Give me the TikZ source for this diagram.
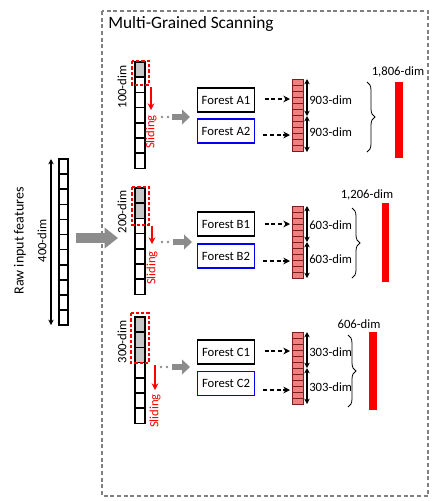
\documentclass[tikz,border=0pt]{standalone}
\usepackage{fontspec}
\setmainfont{Carlito}
\usetikzlibrary{calc,arrows.meta,decorations.pathreplacing}

\definecolor{framegray}{RGB}{128,128,128}
\definecolor{arrowgray}{RGB}{140,140,140}
\definecolor{cellgray}{RGB}{200,200,200}
\definecolor{cellpink}{RGB}{240,128,128}
\definecolor{pinkedge}{RGB}{120,30,30}
\definecolor{barred}{RGB}{250,0,0}
\definecolor{forestblue}{RGB}{0,0,240}

\tikzset{
  cell/.style={draw=black,line width=1.2pt},
  pinkcell/.style={draw=pinkedge,fill=cellpink,line width=0.6pt},
  window/.style={draw=red,dash pattern=on 2.5pt off 1.5pt,line width=0.9pt},
  forest/.style={draw=black,line width=1.3pt,minimum width=42.75pt,minimum height=18pt,inner sep=0pt,font=\fontsize{9.5}{11}\selectfont},
  forestb/.style={forest,draw=forestblue},
  dimlabel/.style={font=\fontsize{9.5}{11}\selectfont,inner sep=0pt},
  fatarrow/.style={draw=arrowgray,line width=5pt,-{Triangle[length=6pt,width=11pt]}},
  bigarrow/.style={draw=arrowgray,line width=7.5pt,-{Triangle[length=10pt,width=15pt]}},
  dotrow/.style={draw=arrowgray,line width=2pt,dash pattern=on 0pt off 4.5pt,line cap=round},
  feedarrow/.style={dash pattern=on 3pt off 2pt,line width=0.9pt,-{Stealth[length=5pt,width=5pt]}},
  slidearrow/.style={red,line width=1pt,-{Stealth[length=5pt,width=5pt]}},
  spanarrow/.style={line width=0.8pt,{Stealth[length=4pt,width=4pt]}-{Stealth[length=4pt,width=4pt]}},
  bracebox/.style={decorate,decoration={brace,amplitude=6pt},line width=0.6pt},
  redbar/.style={fill=barred,draw=none}
}

\begin{document}
\begin{tikzpicture}[x=0.75pt,y=-0.75pt]
\useasboundingbox (0,0) rectangle (438,501);

% frame
\draw[framegray,dash pattern=on 3pt off 2pt,line width=1pt] (102,11) rectangle (428,496);
\node[anchor=west,font=\fontsize{13}{15}\selectfont,inner sep=0pt] (title) at (108,24) {Multi-Grained Scanning};

% raw input
\foreach \i in {0,...,10}
  \draw[cell] (59,{159+15.1*\i}) rectangle (68,{159+15.1*(\i+1)});
\coordinate (rawtop) at (51,159);
\coordinate (rawbot) at (51,325);
\draw[spanarrow] (rawtop) -- (rawbot);
\node[dimlabel,rotate=90] (rawdim) at (42,241) {400-dim};
\node[font=\fontsize{10.5}{12}\selectfont,inner sep=0pt,rotate=90] (rawlabel) at (20,241) {Raw input features};
\coordinate (rawout) at (76,238);
\coordinate (scanin) at (118,238);
\draw[bigarrow] (rawout) -- (scanin);

% row A
\fill[cellgray] (135,62) rectangle (145,77.2);
\foreach \i in {0,...,6}
  \draw[cell] (135,{62+15.2*\i}) rectangle (145,{62+15.2*(\i+1)});
\draw[window] (132,61) rectangle (149,85);
\node[dimlabel,rotate=90] (dimA) at (122,87) {100-dim};
\draw[slidearrow] (151,87) -- (151,110);
\node[dimlabel,red,rotate=90] (slideA) at (151,132) {Sliding};
\draw[dotrow] (162,117) -- (170,117);
\draw[fatarrow] (172,117) -- (190,117);
\node[forest] (fA1) at (226,100) {Forest A1};
\node[forestb] (fA2) at (226,131) {Forest A2};
\foreach \i in {0,...,11}
  \draw[pinkcell] (292,{79+6*\i}) rectangle (303,{79+6*(\i+1)});
\coordinate (inA1) at (290,99);
\coordinate (inA2) at (290,135);
\draw[feedarrow,shorten <=7pt] (fA1.east |- inA1) -- (inA1);
\draw[feedarrow,shorten <=6pt] (fA2.east |- inA2) -- (inA2);
\draw[spanarrow] (307,79) -- (307,116);
\draw[spanarrow] (307,116) -- (307,152);
\node[dimlabel,anchor=west] (subA1) at (309,100) {903-dim};
\node[dimlabel,anchor=west] (subA2) at (309,132) {903-dim};
\draw[bracebox] (367,82) -- (367,152);
\fill[redbar] (395,82) rectangle (403,158);
\node[dimlabel] (totA) at (398,72) {1,806-dim};

% row B
\fill[cellgray] (135,188) rectangle (145,218.4);
\foreach \i in {0,...,6}
  \draw[cell] (135,{188+15.2*\i}) rectangle (145,{188+15.2*(\i+1)});
\draw[window] (132,187) rectangle (149,225);
\node[dimlabel,rotate=90] (dimB) at (122,212) {200-dim};
\draw[slidearrow] (152,226) -- (152,244);
\node[dimlabel,red,rotate=90] (slideB) at (152,268) {Sliding};
\draw[dotrow] (162,242) -- (170,242);
\draw[fatarrow] (173,242) -- (192,242);
\node[forest] (fB1) at (226,224) {Forest B1};
\node[forestb] (fB2) at (226,256) {Forest B2};
\foreach \i in {0,...,11}
  \draw[pinkcell] (292,{206+6*\i}) rectangle (303,{206+6*(\i+1)});
\coordinate (inB1) at (290,224);
\coordinate (inB2) at (290,261);
\draw[feedarrow,shorten <=7pt] (fB1.east |- inB1) -- (inB1);
\draw[feedarrow,shorten <=6pt] (fB2.east |- inB2) -- (inB2);
\draw[spanarrow] (307,206) -- (307,242);
\draw[spanarrow] (307,242) -- (307,278);
\node[dimlabel,anchor=west] (subB1) at (309,225) {603-dim};
\node[dimlabel,anchor=west] (subB2) at (309,259) {603-dim};
\draw[bracebox] (352,208) -- (352,278);
\fill[redbar] (382,203) rectangle (389,282);
\node[dimlabel] (totB) at (367,195) {1,206-dim};

% row C
\fill[cellgray] (135,317) rectangle (145,362.6);
\foreach \i in {0,...,6}
  \draw[cell] (135,{317+15.2*\i}) rectangle (145,{317+15.2*(\i+1)});
\draw[window] (131,313) rectangle (149,363);
\node[dimlabel,rotate=90] (dimC) at (122,342) {300-dim};
\draw[slidearrow] (155,365) -- (155,390);
\node[dimlabel,red,rotate=90] (slideC) at (155,411) {Sliding};
\draw[dotrow] (161,367) -- (169,367);
\draw[fatarrow] (172,367) -- (190,367);
\node[forest] (fC1) at (226,352) {Forest C1};
\node[forestb] (fC2) at (226,383.5) {Forest C2};
\foreach \i in {0,...,11}
  \draw[pinkcell] (292,{332+6*\i}) rectangle (303,{332+6*(\i+1)});
\coordinate (inC1) at (290,351);
\coordinate (inC2) at (290,390);
\draw[feedarrow,shorten <=7pt] (fC1.east |- inC1) -- (inC1);
\draw[feedarrow,shorten <=6pt] (fC2.east |- inC2) -- (inC2);
\draw[spanarrow] (307,332) -- (307,368);
\draw[spanarrow] (307,368) -- (307,404);
\node[dimlabel,anchor=west] (subC1) at (309,352) {303-dim};
\node[dimlabel,anchor=west] (subC2) at (309,387) {303-dim};
\draw[bracebox] (348,335) -- (348,407);
\fill[redbar] (369,332) rectangle (377,410);
\node[dimlabel] (totC) at (359,324) {606-dim};

\end{tikzpicture}
\end{document}
